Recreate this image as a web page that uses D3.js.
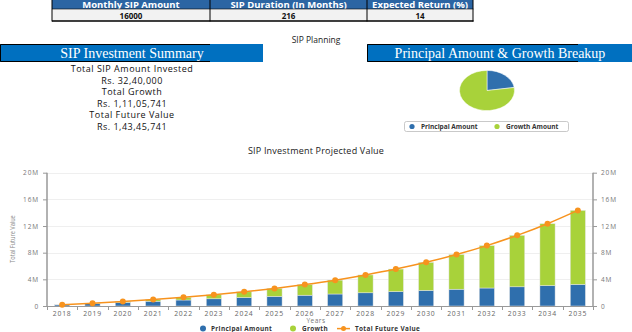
<!DOCTYPE html>
<meta charset="utf-8">
<style>
body { margin: 0; background: #fff; }
text { font-family: "Open Sans", sans-serif; }
.serif { font-family: "Liberation Serif", serif; }
</style>
<svg width="632" height="332"></svg>
<script src="https://d3js.org/d3.v7.min.js"></script>
<script>

// SIP inputs table
var inputHeaders = ["Monthly SIP Amount", "SIP Duration (In Months)", "Expected Return (%)"];
var inputValues = ["16000", "216", "14"];

// summary block
var summaryLines = ["Total SIP Amount Invested", "Rs. 32,40,000", "Total Growth", "Rs. 1,11,05,741", "Total Future Value", "Rs. 1,43,45,741"];

// pie breakup
var pieLabels = ["Principal Amount", "Growth Amount"];
var pieValues = [3240000, 11105741];

// yearly projection
var years = ["2018", "2019", "2020", "2021", "2022", "2023", "2024", "2025", "2026",
             "2027", "2028", "2029", "2030", "2031", "2032", "2033", "2034", "2035"];
var principal = [180000, 360000, 540000, 720000, 900000, 1080000, 1260000, 1440000, 1620000,
                 1800000, 1980000, 2160000, 2340000, 2520000, 2700000, 2880000, 3060000, 3240000];
var growth = [15000, 55000, 130000, 240000, 400000, 600000, 870000, 1200000, 1600000,
              2080000, 2680000, 3380000, 4210000, 5200000, 6360000, 7720000, 9290000, 11105741];
var totalValue = [195000, 415000, 670000, 960000, 1300000, 1680000, 2130000, 2640000, 3220000,
                  3880000, 4660000, 5540000, 6550000, 7720000, 9060000, 10600000, 12350000, 14345741];
var yTicks = [0, 4000000, 8000000, 12000000, 16000000, 20000000];

var blue = "#2f6fad", green = "#a8d23a", orange = "#f7931e";
var svg = d3.select("svg");

// ---- inputs table (header row runs off the top edge) ----
var colX = [52, 210, 367, 473];
var tbl = svg.append("g");
tbl.selectAll(".hd").data(inputHeaders).enter().append("rect")
  .attr("x", (d, i) => colX[i]).attr("y", -6)
  .attr("width", (d, i) => colX[i + 1] - colX[i]).attr("height", 15)
  .attr("fill", "#2b65a3");
tbl.selectAll(".rw").data(inputValues).enter().append("rect")
  .attr("x", (d, i) => colX[i]).attr("y", 9)
  .attr("width", (d, i) => colX[i + 1] - colX[i]).attr("height", 12)
  .attr("fill", "#f2f2f2");
tbl.selectAll(".ht").data(inputHeaders).enter().append("text")
  .attr("x", (d, i) => (colX[i] + colX[i + 1]) / 2).attr("y", 7.8)
  .attr("text-anchor", "middle").attr("fill", "#fff")
  .style("font-size", "9.5px").style("font-weight", "bold")
  .text(d => d);
tbl.selectAll(".vt").data(inputValues).enter().append("text")
  .attr("x", (d, i) => (colX[i] + colX[i + 1]) / 2).attr("y", 18.5)
  .attr("text-anchor", "middle").attr("fill", "#111")
  .style("font-size", "8px").style("font-weight", "bold")
  .text(d => d);
colX.forEach(function(x) {
  tbl.append("line").attr("x1", x).attr("x2", x).attr("y1", 0).attr("y2", 21.5)
    .attr("stroke", "#000").attr("stroke-width", 1);
});
tbl.append("line").attr("x1", 52).attr("x2", 473.5).attr("y1", 21).attr("y2", 21)
  .attr("stroke", "#000").attr("stroke-width", 1.4);
tbl.append("line").attr("x1", 52).attr("x2", 473.5).attr("y1", 9).attr("y2", 9)
  .attr("stroke", "#000").attr("stroke-width", 0.6);

svg.append("text").attr("x", 316).attr("y", 43).attr("text-anchor", "middle")
  .style("font-size", "8.5px").attr("fill", "#222").text("SIP Planning");

// ---- section banners ----
function banner(x0, x1, borderEnd, label, cx) {
  svg.append("rect").attr("x", x0).attr("y", 44).attr("width", x1 - x0).attr("height", 18)
    .attr("fill", "#0070c0");
  svg.append("path")
    .attr("d", "M" + borderEnd + ",44.5H" + (x0 + 0.5) + "V61.5H" + borderEnd)
    .attr("fill", "none").attr("stroke", "#000").attr("stroke-width", 1);
  svg.append("text").attr("class", "serif").attr("x", cx).attr("y", 58)
    .attr("text-anchor", "middle").attr("fill", "#fff")
    .style("font-size", "14px").text(label);
}
banner(0, 263, 210, "SIP Investment Summary", 132);
banner(367, 632, 578, "Principal Amount & Growth Breakup", 500);

svg.selectAll(".sum").data(summaryLines).enter().append("text")
  .attr("x", 132).attr("y", (d, i) => 72 + i * 11.6)
  .attr("text-anchor", "middle").attr("fill", "#111")
  .style("font-size", "9px").style("letter-spacing", "0.5px")
  .text(d => d);

// ---- pie ----
var pieG = svg.append("g").attr("transform", "translate(487,90.5) scale(1,0.73)");
var arc = d3.arc().innerRadius(0).outerRadius(27.5);
pieG.selectAll("path").data(d3.pie().sort(null)(pieValues)).enter().append("path")
  .attr("d", arc).attr("fill", (d, i) => i ? green : blue)
  .attr("stroke", "#fff").attr("stroke-width", 0.6);

var pl = svg.append("g");
pl.append("rect").attr("x", 404.5).attr("y", 121.5).attr("width", 164).attr("height", 10)
  .attr("rx", 2).attr("fill", "#fff").attr("stroke", "#bbb").attr("stroke-width", 0.8);
var pieLegX = [412, 497];
pieLabels.forEach(function(l, i) {
  pl.append("circle").attr("cx", pieLegX[i]).attr("cy", 126.5).attr("r", 2.6)
    .attr("fill", i ? green : blue);
  pl.append("text").attr("x", pieLegX[i] + 9).attr("y", 128.8)
    .style("font-size", "6.5px").style("font-weight", "bold").attr("fill", "#333").text(l);
});

// ---- projection chart ----
var x = d3.scaleBand().domain(years).range([47, 593]).paddingInner(0.5).paddingOuter(0.25);
var y = d3.scaleLinear().domain([0, 20000000]).range([306, 172.7]);
var fmt = d => d === 0 ? "0" : (d / 1e6) + "M";

svg.append("text").attr("x", 316).attr("y", 154).attr("text-anchor", "middle")
  .style("font-size", "9px").attr("fill", "#222").style("letter-spacing", "0.2px")
  .text("SIP Investment Projected Value");

svg.selectAll(".grid").data(yTicks.slice(1)).enter().append("line")
  .attr("x1", 47).attr("x2", 593).attr("y1", d => Math.round(y(d)) + 0.5).attr("y2", d => Math.round(y(d)) + 0.5)
  .attr("stroke", "#efefef");

var yLeft = svg.append("g").attr("transform", "translate(47,0)")
  .call(d3.axisLeft(y).tickValues(yTicks).tickFormat(fmt).tickSize(4));
var yRight = svg.append("g").attr("transform", "translate(593,0)")
  .call(d3.axisRight(y).tickValues(yTicks).tickFormat(fmt).tickSize(4));
[yLeft, yRight].forEach(function(a) {
  a.select(".domain").attr("stroke", "#999").attr("stroke-width", 1.5).attr("d",
    "M0," + y(20000000) + "V" + y(0));
  a.selectAll(".tick line").attr("stroke", "#999");
  a.selectAll(".tick text").style("font-size", "6.5px").style("letter-spacing", "0.9px")
    .attr("fill", "#777").style("font-family", "Open Sans, sans-serif");
});
yLeft.selectAll(".tick text").attr("x", -8);
yRight.selectAll(".tick text").attr("x", 8);

var stack = svg.append("g");
years.forEach(function(yr, i) {
  stack.append("rect").attr("x", x(yr)).attr("width", x.bandwidth())
    .attr("y", y(principal[i])).attr("height", y(0) - y(principal[i]))
    .attr("fill", blue).attr("stroke", "#e6e6e6").attr("stroke-width", 0.5);
  stack.append("rect").attr("x", x(yr)).attr("width", x.bandwidth())
    .attr("y", y(principal[i] + growth[i])).attr("height", y(principal[i]) - y(principal[i] + growth[i]))
    .attr("fill", green).attr("stroke", "#e6e6e6").attr("stroke-width", 0.5);
});

var xAxis = svg.append("g").attr("transform", "translate(0,306)");
xAxis.append("line").attr("x1", 47).attr("x2", 593).attr("y1", 0.5).attr("y2", 0.5)
  .attr("stroke", "#999");
var step = x.step();
d3.range(years.length + 1).forEach(function(k) {
  var bx = Math.round(x(years[0]) - step * 0.25 + k * step) + 0.5;
  xAxis.append("line").attr("x1", bx).attr("x2", bx).attr("y1", 0).attr("y2", 4)
    .attr("stroke", "#999");
});
xAxis.selectAll(".yl").data(years).enter().append("text")
  .attr("x", d => x(d) + x.bandwidth() / 2).attr("y", 9.5)
  .attr("text-anchor", "middle").attr("fill", "#666")
  .style("font-size", "6.8px").style("letter-spacing", "0.8px").text(d => d);

svg.append("text").attr("x", 316).attr("y", 323).attr("text-anchor", "middle")
  .attr("fill", "#777").style("font-size", "6.5px").style("letter-spacing", "0.5px").text("Years");

svg.append("text").attr("transform", "translate(15,239) rotate(-90) scale(0.8,1)")
  .attr("text-anchor", "middle").attr("fill", "#888")
  .style("font-size", "7px").text("Total Future Value");

var line = d3.line().x((d, i) => x(years[i]) + x.bandwidth() / 2).y(d => y(d))
  .curve(d3.curveMonotoneX);
svg.append("path").datum(totalValue).attr("d", line)
  .attr("fill", "none").attr("stroke", orange).attr("stroke-width", 1.5);
svg.selectAll(".dot").data(totalValue).enter().append("circle")
  .attr("cx", (d, i) => x(years[i]) + x.bandwidth() / 2).attr("cy", d => y(d))
  .attr("r", 3).attr("fill", orange);

// bottom legend
var leg = svg.append("g");
var legY = 328.6;
leg.append("circle").attr("cx", 203).attr("cy", legY).attr("r", 3).attr("fill", blue);
leg.append("text").attr("x", 211).attr("y", legY + 2.2).style("font-size", "6.4px").style("font-weight", "bold")
  .attr("fill", "#333").style("letter-spacing", "0.35px").text("Principal Amount");
leg.append("circle").attr("cx", 293).attr("cy", legY).attr("r", 3).attr("fill", green);
leg.append("text").attr("x", 302).attr("y", legY + 2.2).style("font-size", "6.4px").style("font-weight", "bold")
  .attr("fill", "#333").style("letter-spacing", "0.35px").text("Growth");
leg.append("line").attr("x1", 337).attr("x2", 350).attr("y1", legY).attr("y2", legY)
  .attr("stroke", orange).attr("stroke-width", 1.5);
leg.append("circle").attr("cx", 343.5).attr("cy", legY).attr("r", 2.5).attr("fill", orange);
leg.append("text").attr("x", 355).attr("y", legY + 2.2).style("font-size", "6.4px").style("font-weight", "bold")
  .attr("fill", "#333").style("letter-spacing", "0.35px").text("Total Future Value");

</script>
